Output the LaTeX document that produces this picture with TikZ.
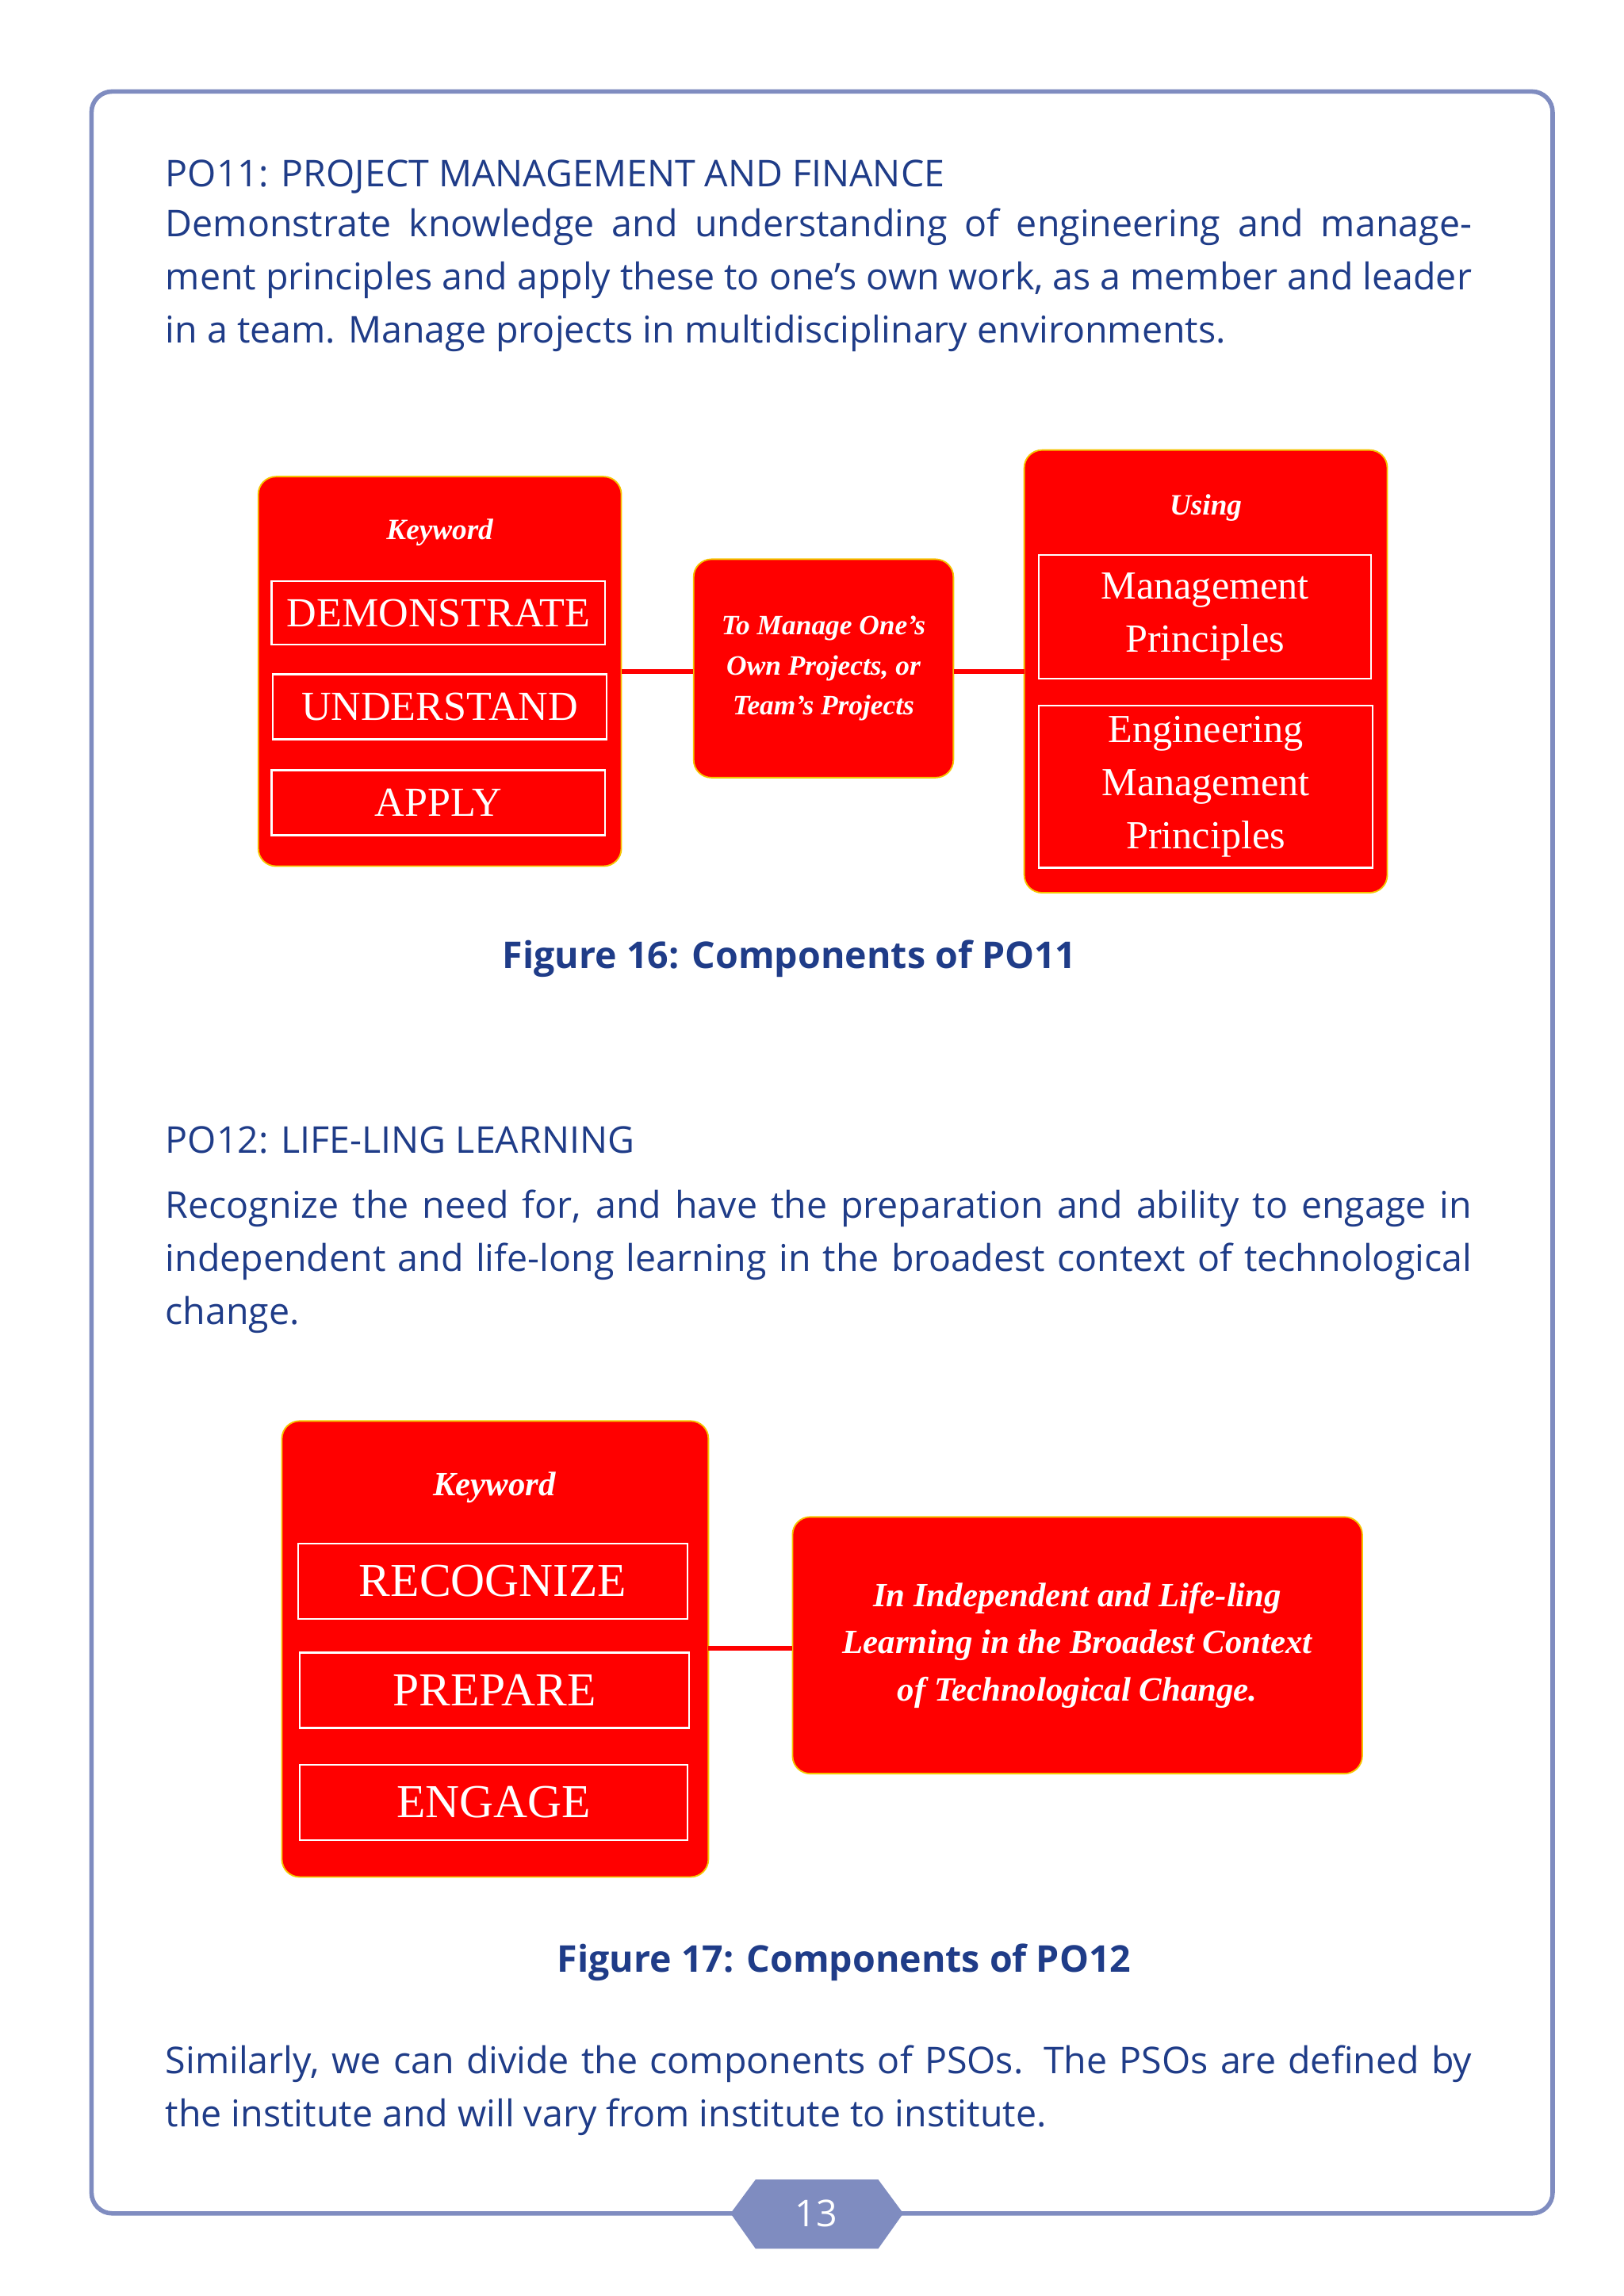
\documentclass[tikz,border=0pt]{standalone}
\usepackage{fontspec}
\setmainfont{Open Sans}
\newfontfamily\serifit{Liberation Serif}
\definecolor{txt}{HTML}{1F3C88}
\definecolor{frame}{HTML}{7F8CC0}
\definecolor{rd}{HTML}{FF0000}
\definecolor{bd}{HTML}{F5C400}
\tikzset{
 outer/.style={draw=bd,fill=rd,rounded corners=12pt,line width=1pt},
 inner/.style={draw=white,line width=1.2pt,text=white,font=\serifit\fontsize{28}{32}\selectfont,align=center},
 kw/.style={text=white,font=\serifit\bfseries\itshape\fontsize{20}{24}\selectfont},
 para/.style={text=txt,text width=885pt,align=justify,anchor=north west,inner sep=0pt,font=\fontsize{25}{36}\selectfont},
 figcap/.style={text=txt,font=\bfseries\fontsize{25}{30}\selectfont},
 link/.style={draw=rd,line width=3pt}
}
\begin{document}
\begin{tikzpicture}[x=1pt,y=-1pt]
\useasboundingbox (0,0) rectangle (1100,1556);
\fill[white] (0,0) rectangle (1100,1556);
\draw[frame,line width=3pt,rounded corners=14pt] (62,62) rectangle (1052,1500);
\fill[frame] (495,1500) -- (512,1477) -- (595,1477) -- (612,1500) -- (595,1524) -- (512,1524) -- cycle;
\node[text=white,font=\fontsize{25}{30}\selectfont] (pg) at (553,1500) {13};
% PO11 text
\node[para] (h1) at (112,108) {PO11: PROJECT MANAGEMENT AND FINANCE\\[-2pt]Demonstrate knowledge and understanding of engineering and management principles and apply these to one’s own work, as a member and leader in a team. Manage projects in multidisciplinary environments.};
% diagram 1
\draw[outer] (175,323) rectangle (421,587);
\node[kw] (k1) at (298,361) {Keyword};
\node[inner,minimum width=226pt,minimum height=43pt] (d1) at (297,415.5) {DEMONSTRATE};
\node[inner,minimum width=226pt,minimum height=44pt] (d2) at (298,479) {UNDERSTAND};
\node[inner,minimum width=226pt,minimum height=44pt] (d3) at (297,544) {APPLY};
\node[outer,minimum width=176pt,minimum height=148pt,text=white,font=\serifit\bfseries\itshape\fontsize{19}{27}\selectfont,align=center] (m1) at (558,453) {To Manage One’s\\Own Projects, or\\Team’s Projects};
\draw[outer] (694,305) rectangle (940,605);
\node[kw] (u1) at (817,344) {Using};
\node[inner,minimum width=225pt,minimum height=84pt,font=\serifit\fontsize{27}{36}\selectfont] (r1) at (816.5,418) {Management\\Principles};
\node[inner,minimum width=226pt,minimum height=110pt,font=\serifit\fontsize{27}{36}\selectfont] (r2) at (817,533) {Engineering\\Management\\Principles};
\coordinate (l1) at (421,455);
\coordinate (rr1) at (694,455);
\draw[link] (l1) -- (m1.west |- l1);
\draw[link] (m1.east |- rr1) -- (rr1);
\node[figcap] (c1) at (535,650) {Figure 16: Components of PO11};
% PO12 text
\node[para] (h2) at (112,763) {PO12: LIFE-LING LEARNING\\[8pt]Recognize the need for, and have the preparation and ability to engage in independent and life-long learning in the broadest context of technological change.};
% diagram 2
\draw[outer] (191,963) rectangle (480,1272);
\node[kw,font=\serifit\bfseries\itshape\fontsize{23}{26}\selectfont] (k2) at (335,1008) {Keyword};
\node[inner,minimum width=264pt,minimum height=51pt,font=\serifit\fontsize{32}{36}\selectfont] (e1) at (334,1071.5) {RECOGNIZE};
\node[inner,minimum width=264pt,minimum height=51pt,font=\serifit\fontsize{32}{36}\selectfont] (e2) at (335,1145.5) {PREPARE};
\node[inner,minimum width=263pt,minimum height=51pt,font=\serifit\fontsize{32}{36}\selectfont] (e3) at (334.5,1221.5) {ENGAGE};
\node[outer,minimum width=386pt,minimum height=174pt,text=white,font=\serifit\bfseries\itshape\fontsize{23}{32}\selectfont,align=center] (m2) at (730,1115) {In Independent and Life-ling\\Learning in the Broadest Context\\of Technological Change.};
\coordinate (l2) at (480,1117);
\draw[link] (l2) -- (m2.west |- l2);
\node[figcap] (c2) at (572,1330) {Figure 17: Components of PO12};
\node[para] (p3) at (112,1386) {Similarly, we can divide the components of PSOs. The PSOs are defined by the institute and will vary from institute to institute.};
\end{tikzpicture}
\end{document}
